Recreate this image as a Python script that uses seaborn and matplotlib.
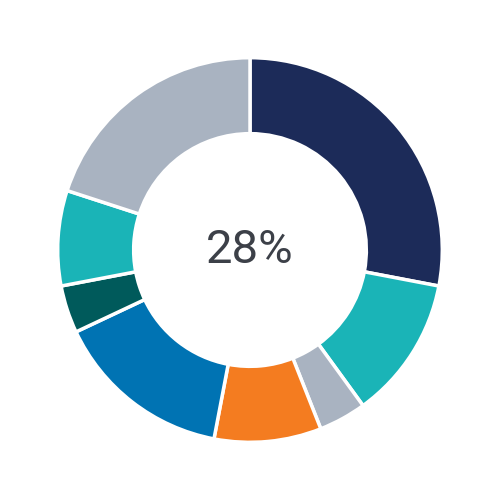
import matplotlib
matplotlib.use('Agg')
import matplotlib.pyplot as plt
import seaborn as sns

# slice shares, clockwise from 12 o'clock
segments = ['A', 'B', 'C', 'D', 'E', 'F', 'G', 'H']
shares = [28, 12, 4, 9, 15, 4, 8, 20]
colors = ['#1c2b59', '#1ab4b7', '#a9b3c1', '#f47c20', '#0073b3', '#005a5b', '#1ab4b7', '#a9b3c1']
center_label = '28%'

sns.set_theme(style='white')
palette = sns.color_palette(colors)

fig = plt.figure(figsize=(5, 5), dpi=100)
ax = fig.add_axes([0, 0, 1, 1])
ax.pie(shares,
       colors=palette,
       startangle=90,
       counterclock=False,
       radius=1.0,
       wedgeprops=dict(width=0.395, edgecolor='white', linewidth=2.5))
ax.text(0, 0.0, center_label, ha='center', va='center',
        fontsize=34, color='#3c4048', family=['Roboto', 'DejaVu Sans'])
ax.set_xlim(-1.3, 1.3)
ax.set_ylim(-1.3, 1.3)
ax.set_aspect('equal')
ax.axis('off')

plt.savefig('out.png', dpi=100, facecolor='white')
